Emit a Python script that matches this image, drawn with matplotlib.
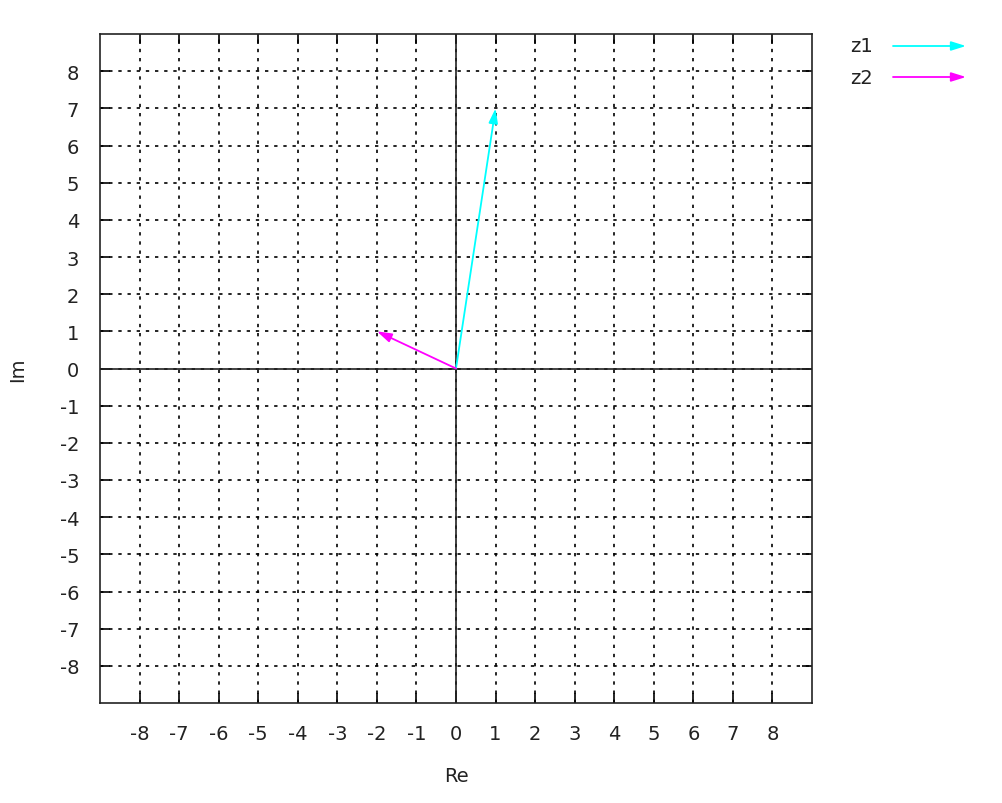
import matplotlib
matplotlib.use("Agg")
import matplotlib.pyplot as plt
from matplotlib.patches import FancyArrowPatch

# data
series_names = ["z1", "z2"]
re_parts = [1, -2]
im_parts = [7, 1]
colors = ["#00ffff", "#ff00ff"]
ticks = list(range(-8, 9))
lim = (-9, 9)

W, H = 1002, 804
FS = 14
fig = plt.figure(figsize=(W / 100, H / 100), dpi=100)
ax = fig.add_axes([100 / W, 1 - 704 / H, 712 / W, 669 / H])

ax.set_xlim(*lim)
ax.set_ylim(*lim)
ax.set_xticks(ticks)
ax.set_yticks(ticks)
ax.set_xticklabels([str(t) for t in ticks])
ax.set_yticklabels([str(t) for t in ticks])
ax.tick_params(direction="in", length=7.5, width=1.2, top=True, right=True,
               labelsize=FS, colors="black", labelcolor="#222222")
ax.tick_params(axis="x", pad=15)
ax.tick_params(axis="y", pad=15)
for s in ax.spines.values():
    s.set_linewidth(1.2)
    s.set_color("#222222")

for t in ticks:
    l1 = ax.axvline(t, color="black", lw=1.2, zorder=1)
    l1.set_dashes([2, 3.5])
    l2 = ax.axhline(t, color="black", lw=1.2, zorder=1)
    l2.set_dashes([2, 3.5])

ax.axhline(0, color="#222222", lw=1.2, zorder=2)
ax.axvline(0, color="#222222", lw=1.2, zorder=2)

astyle = "-|>,head_length=0.8,head_width=0.25"
for re, im, c in zip(re_parts, im_parts, colors):
    ax.annotate("", xy=(re, im), xytext=(0, 0),
                arrowprops=dict(arrowstyle=astyle, color=c, lw=1.3,
                                shrinkA=0, shrinkB=0, mutation_scale=11),
                zorder=3)

ax.set_xlabel("Re", fontsize=FS, color="#222222")
ax.set_ylabel("Im", fontsize=FS, color="#222222")
ax.xaxis.set_label_coords(0.5, -(777 - 704) / 669)
ax.xaxis.label.set_va("center")
ax.yaxis.set_label_coords(-(100 - 18) / 712, 0.5)
ax.yaxis.label.set_va("center")

# legend (drawn manually in figure pixels)
for i, (name, c) in enumerate(zip(series_names, colors)):
    y = 1 - (47 + 31 * i) / H
    fig.text(873 / W, y, name, ha="right", va="center", fontsize=FS, color="#222222")
    fig.add_artist(FancyArrowPatch(
        (893 / W, y), (966 / W, y), transform=fig.transFigure,
        arrowstyle=astyle, color=c, lw=1.3, mutation_scale=11,
        shrinkA=0, shrinkB=0))

fig.savefig("out.png", dpi=100, facecolor="white")
